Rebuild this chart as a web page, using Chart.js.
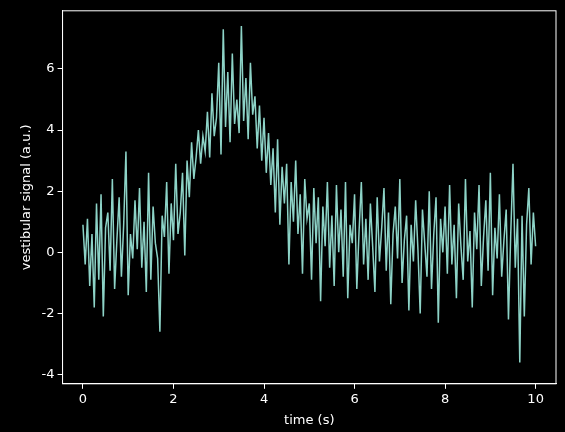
<!DOCTYPE html>
<html>
<head>
<script src="https://cdn.jsdelivr.net/npm/chart.js@4"></script>
<style>
  html, body { margin: 0; padding: 0; background: #000; }
  #wrap { width: 565px; height: 432px; }
</style>
</head>
<body>
<div id="wrap"><canvas id="myChart"></canvas></div>
<script>
// samples every 0.05 s from 0 to 10 s
const timeStep = 0.05;
const signal = [
  0.9,-0.4,1.1,-1.1,0.6,-1.8,1.6,-0.9,1.9,-2.1,0.8,1.3,-0.6,2.4,-1.2,0.4,1.8,-0.8,0.9,3.3,
  -1.4,0.6,-0.2,1.7,0.1,2.1,-0.5,1.0,-1.3,2.6,-0.9,1.5,0.3,-0.2,-2.6,1.2,0.5,2.3,-0.7,1.6,
  0.4,2.9,0.6,1.3,2.6,-0.1,3.0,1.8,3.6,2.4,3.1,4.0,2.9,3.8,3.3,4.6,3.1,5.2,3.8,4.4,
  6.2,3.2,7.3,4.1,5.9,3.6,6.5,4.2,5.0,3.9,7.4,4.3,5.7,3.7,6.2,4.5,5.1,3.4,4.8,3.0,
  4.4,2.6,3.9,2.2,3.4,1.3,3.7,0.9,2.8,1.6,2.9,-0.4,2.3,1.0,3.0,0.6,1.9,-0.7,2.4,1.1,
  1.6,-0.9,2.1,0.3,1.8,-1.6,1.5,0.2,2.3,-0.5,
  1.2,-1.1,2.2,0.0,1.4,-0.8,2.3,-1.5,0.9,0.3,1.9,-1.2,0.7,2.3,-0.4,1.1,-0.9,1.6,0.2,-1.3,
  1.8,-0.3,0.8,2.1,-0.6,1.3,-1.7,0.6,1.5,-0.2,2.4,-1.0,0.4,1.2,-1.9,0.9,-0.3,1.7,0.1,-2.0,
  1.4,0.3,-0.8,2.0,-1.2,0.6,1.8,-2.3,1.1,0.0,1.5,-0.7,2.2,-0.4,0.9,-1.5,1.6,0.2,-0.9,2.4,
  -0.3,0.7,-1.8,1.3,0.1,2.2,-1.1,0.5,1.7,-0.6,2.6,-1.4,0.8,-0.2,1.9,-0.8,0.4,1.4,-2.2,0.6,
  2.9,-0.5,1.1,-3.6,1.2,-2.1,0.9,2.1,-0.4,1.3,0.2
];
const xTicks = [0, 2, 4, 6, 8, 10];
const yTicks = [-4, -2, 0, 2, 4, 6];

const points = signal.map((v, i) => ({ x: i * timeStep, y: v }));

const font = { family: "DejaVu Sans", size: 13 };
Chart.defaults.color = "#fff";

new Chart(document.getElementById("myChart"), {
  type: "line",
  data: {
    datasets: [{
      data: points,
      borderColor: "#8dd3c7",
      borderWidth: 1.5,
      pointRadius: 0,
      tension: 0,
    }],
  },
  options: {
    responsive: true,
    maintainAspectRatio: false,
    animation: false,
    layout: { padding: { top: 8, right: 9, left: 15, bottom: 2 } },
    plugins: { legend: { display: false }, tooltip: { enabled: false } },
    scales: {
      x: {
        type: "linear",
        min: -0.45,
        max: 10.45,
        afterBuildTicks: (axis) => { axis.ticks = xTicks.map((v) => ({ value: v })); },
        grid: { drawOnChartArea: false, color: "#fff", tickLength: 5 },
        border: { color: "#fff" },
        ticks: { font, color: "#fff", maxRotation: 0 },
        title: { display: true, text: "time (s)", font, color: "#fff", padding: { top: 2, bottom: 2 } },
      },
      y: {
        min: -4.3,
        max: 7.9,
        afterBuildTicks: (axis) => { axis.ticks = yTicks.map((v) => ({ value: v })); },
        grid: { drawOnChartArea: false, color: "#fff", tickLength: 5 },
        border: { color: "#fff" },
        ticks: { font, color: "#fff" },
        title: { display: true, text: "vestibular signal (a.u.)", font, color: "#fff" },
      },
    },
  },
  plugins: [{
    id: "frame",
    afterDraw(chart) {
      const { ctx, chartArea: a } = chart;
      ctx.save();
      ctx.strokeStyle = "#fff";
      ctx.lineWidth = 1;
      ctx.strokeRect(a.left, a.top, a.right - a.left, a.bottom - a.top);
      ctx.restore();
    },
  }],
});
</script>
</body>
</html>
